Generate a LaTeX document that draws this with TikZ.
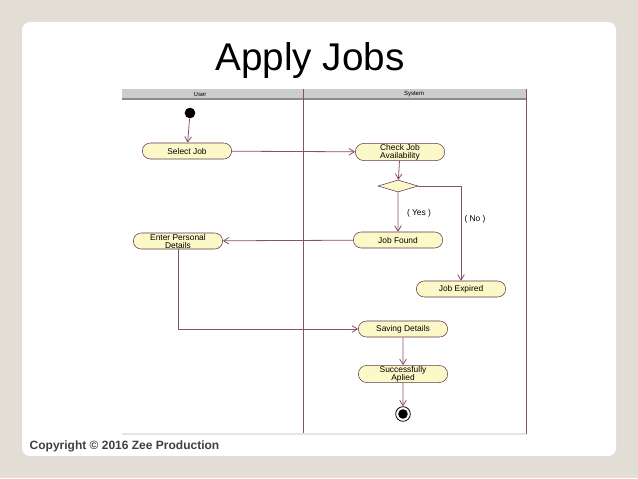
\documentclass[tikz,border=0pt]{standalone}
\usepackage{fontspec}
\setmainfont{Liberation Sans}
\usetikzlibrary{shapes.geometric,shapes.misc,arrows.meta}
\definecolor{bg}{HTML}{E2DDD5}
\definecolor{ln}{HTML}{8A4E6E}
\definecolor{fl}{HTML}{FDF8C8}
\tikzset{x=0.75pt,y=-0.75pt,
 act/.style={draw=ln!70!black,fill=fl,rounded rectangle,minimum width=68pt,minimum height=12pt,inner sep=0.5pt,font=\fontsize{6.3}{6}\selectfont,align=center},
 flow/.style={draw=ln,line width=0.6pt,-{Straight Barb[length=4pt,width=5pt]}}}
\begin{document}
\begin{tikzpicture}
\fill[bg] (0,0) rectangle (638,478);
\fill[white,rounded corners=6pt] (22,22) rectangle (616,456);
\node[font=\fontsize{29}{29}\selectfont] (title) at (310,61) {Apply Jobs};
\node[font=\bfseries\fontsize{9}{9}\selectfont,text=black!75,anchor=west] (copy) at (25,446) {Copyright © 2016 Zee Production};
\fill[black!20] (122,89) rectangle (526,99);
\draw[black!45,line width=1pt] (122,99) -- (526,99);
\node[font=\fontsize{4.5}{4.5}\selectfont] (u) at (200,94) {User};
\node[font=\fontsize{4.5}{4.5}\selectfont] (s) at (414,94) {System};
\draw[ln,line width=0.6pt] (303,89) -- (303,434);
\draw[ln,line width=0.6pt] (526,89) -- (526,434);
\draw[black!10,line width=1pt] (122,434) -- (526,434);
\node[circle,fill=black,inner sep=0,minimum size=8pt] (st) at (190,113) {};
\node[act] (sel) at (187,151) {Select Job};
\node[act] (chk) at (400,152) {Check Job\\Availability};
\node[diamond,draw=ln!70!black,fill=fl,aspect=3,inner sep=0,minimum width=30pt,minimum height=9pt] (dec) at (398,186) {};
\node[act] (fnd) at (398,240) {Job Found};
\node[act] (ent) at (178,241) {Enter Personal\\Details};
\node[act] (exp) at (461,289) {Job Expired};
\node[act] (sav) at (403,329) {Saving Details};
\node[act] (suc) at (403,374) {Successfully\\Aplied};
\node[circle,draw=black,line width=0.6pt,inner sep=0,minimum size=11pt] (en) at (403,414) {};
\fill (en) circle (3.6pt);
\node[font=\fontsize{6.3}{6}\selectfont] (yes) at (419,213) {( Yes )};
\node[font=\fontsize{6.3}{6}\selectfont] (no) at (475,219) {( No )};
\draw[flow] (st) -- (sel);
\draw[flow] (sel) -- (chk);
\draw[flow] (chk) -- (dec);
\draw[flow] (dec) -- (fnd);
\draw[flow] (dec.east) -| (exp.north);
\draw[flow] (fnd) -- (ent);
\draw[flow] (ent.south) |- (sav.west);
\draw[flow] (sav) -- (suc);
\draw[flow] (suc) -- (en);
\end{tikzpicture}
\end{document}
